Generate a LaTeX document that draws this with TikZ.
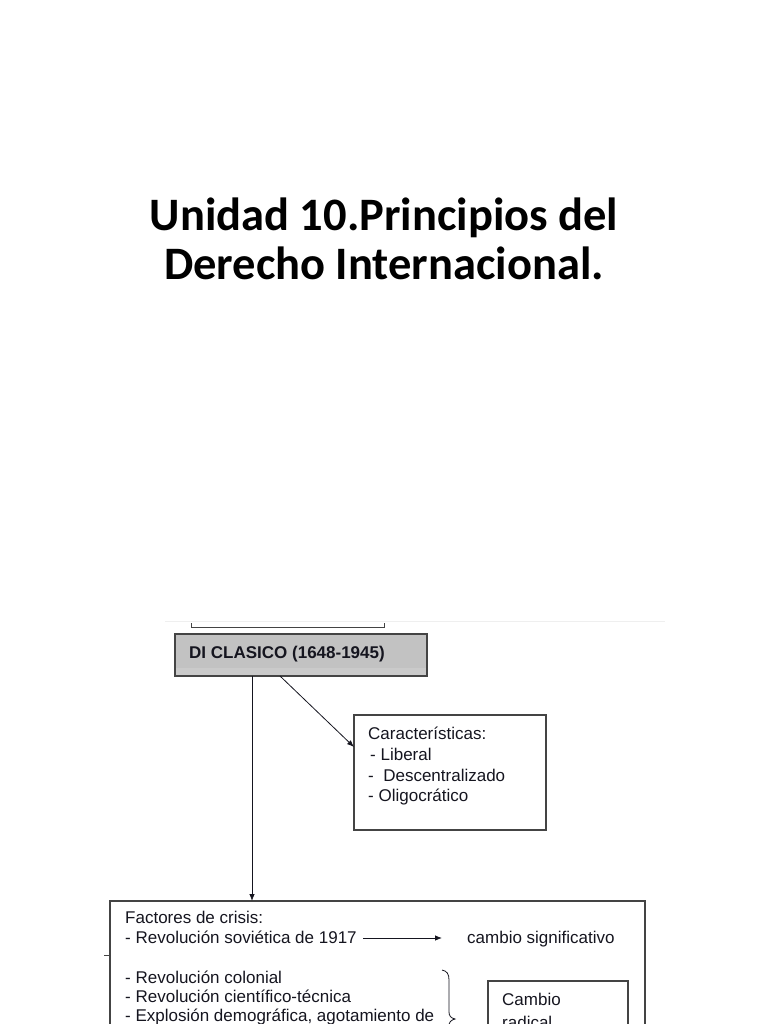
\documentclass[tikz,border=0pt]{standalone}
\usepackage{fontspec}
\setmainfont{Liberation Sans}
\newfontfamily\titlefont{Carlito}
\usetikzlibrary{arrows.meta,calc}
\definecolor{ink}{HTML}{15151F}
\definecolor{boxline}{HTML}{444444}
\definecolor{grayfill}{HTML}{C2C2C2}
\definecolor{grayband}{HTML}{CACACA}
\definecolor{faint}{HTML}{EFEFEF}
\begin{document}
\begin{tikzpicture}[x=1pt,y=-1pt,
  frame/.style={draw=boxline,line width=1.1pt,anchor=north west,inner sep=0pt,outer sep=0pt},
  txt/.style={anchor=base west,inner sep=0pt,text=ink,font=\fontsize{17}{20}\selectfont},
  arr/.style={draw=ink,line width=0.8pt,-{Latex[length=7pt,width=5.5pt]}}]
\useasboundingbox (0,0) rectangle (768,1024);
\clip (0,0) rectangle (768,1024);
% title
\node[anchor=base,inner sep=0pt,font=\titlefont\bfseries\fontsize{46.5}{50}\selectfont,text=black] (t1) at (384,231) {Unidad 10.Principios del};
\node[anchor=base,inner sep=0pt,font=\titlefont\bfseries\fontsize{46.5}{50}\selectfont,text=black] (t2) at (384,279) {Derecho Internacional.};
% DI clasico box
\node[frame,fill=grayfill,minimum width=252pt,minimum height=42pt] (clasico) at (175,634) {};
\fill[grayband] ($(clasico.south west)+(0.6,-8)$) rectangle ($(clasico.south east)+(-0.6,-0.6)$);
\node[anchor=base west,inner sep=0pt,text=ink,font=\bfseries\fontsize{17}{20}\selectfont] (clasicotxt) at (189,658) {DI CLASICO (1648-1945)};
% faint rule and bracket above the box
\coordinate (fr1) at (165,621);
\coordinate (fr2) at (665,621);
\draw[faint,line width=0.6pt] (fr1) -- (fr2);
\coordinate (bl) at ($(clasico.north west)+(16,-7)$);
\coordinate (br) at ($(clasico.north west)+(209,-7)$);
\draw[boxline,line width=1pt,line cap=butt] ($(bl)+(0,-4)$) -- (bl) -- (br) -- ($(br)+(0,-4)$);
% caracteristicas box
\node[frame,minimum width=192pt,minimum height=115pt] (caract) at (354,715) {};
\node[txt] (c1) at (368,739) {Características:};
\node[txt] (c2) at (370,760) {- Liberal};
\node[txt] (c3) at (368,781) {-\ \ Descentralizado};
\node[txt] (c4) at (368,801) {- Oligocrático};
% crisis box
\node[frame,minimum width=535pt,minimum height=200pt] (crisis) at (110,901) {};
\coordinate (tk) at (104,955);
\draw[boxline,line width=1pt] (tk) -- (tk -| crisis.west);
\node[txt] (f1) at (125,923) {Factores de crisis:};
\node[txt] (f2) at (125,943) {- Revolución soviética de 1917};
\node[txt] (f3) at (467,943) {cambio significativo};
\node[txt] (f4) at (125,983) {- Revolución colonial};
\node[txt] (f5) at (125,1002) {- Revolución científico-técnica};
\node[txt] (f6) at (125,1021) {- Explosión demográfica, agotamiento de};
% cambio radical box
\node[frame,minimum width=140pt,minimum height=80pt] (radical) at (488,981) {};
\node[txt] (r1) at (502,1005) {Cambio};
\node[txt] (r2) at (502,1028) {radical};
% brace
\draw[ink,line width=0.8pt] (442,970) .. controls (447,971) and (449,974) .. (449,980) -- (449,1012) .. controls (449,1016) and (451,1018) .. (455,1019) .. controls (451,1020) and (449,1022) .. (449,1026);
% connectors
\coordinate (v1) at ($(clasico.south west)+(77,0)$);
\draw[arr] (v1) -- (v1 |- crisis.north);
\coordinate (d1) at ($(clasico.south west)+(105,0)$);
\draw[arr] (d1) -- ($(caract.north west)+(0,32)$);
\coordinate (s1) at (363,938);
\coordinate (s2) at (442,938);
\draw[arr] (s1) -- (s2);
\end{tikzpicture}
\end{document}
